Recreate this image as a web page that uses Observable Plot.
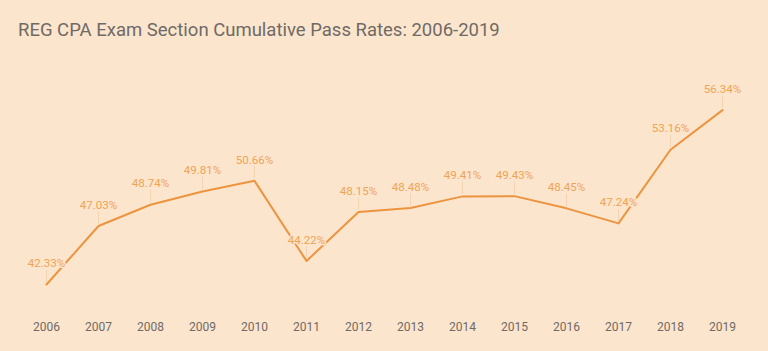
<!DOCTYPE html>
<html><head><meta charset="utf-8">
<script src="https://cdn.jsdelivr.net/npm/d3@7"></script>
<script src="https://cdn.jsdelivr.net/npm/@observablehq/plot@0.6"></script>
<style>
html,body{margin:0;padding:0;background:#fce5cd;}
#title{font-family:Roboto,sans-serif;font-size:18.5px;color:#6f6a66;height:60px;box-sizing:border-box;padding:19px 0 0 18px;white-space:nowrap;}
</style></head>
<body>
<div id="title">REG CPA Exam Section Cumulative Pass Rates: 2006-2019</div>
<div id="chart"></div>
<script>
const years = ["2006","2007","2008","2009","2010","2011","2012","2013","2014","2015","2016","2017","2018","2019"];
const rates = [42.33,47.03,48.74,49.81,50.66,44.22,48.15,48.48,49.41,49.43,48.45,47.24,53.16,56.34];
const data = years.map((y,i)=>({year:y, v:rates[i]}));
const lineColor = "#ec943f";
const labelColor = "#f0a352";
const bg = "#fce5cd";
const chart = Plot.plot({
  width: 768,
  height: 291,
  marginLeft: 43,
  marginRight: 44,
  marginTop: 29,
  marginBottom: 38,
  style: {background: bg, fontFamily: "Roboto, sans-serif"},
  x: {type: "point", domain: years, padding: 0},
  y: {domain: [40, 58], axis: null},
  marks: [
    Plot.ruleX(data, {x: "year", y1: d => d.v + 0.15, y2: d => d.v + 1.15, stroke: "#f2d4b4", strokeWidth: 1}),
    Plot.line(data, {x: "year", y: "v", stroke: lineColor, strokeWidth: 2}),
    Plot.text(data, {x: "year", y: "v", text: d => d.v.toFixed(2) + "%", dy: -21, fill: labelColor, stroke: bg, strokeWidth: 3, fontSize: 11.5}),
    Plot.axisX({tickSize: 0, tickPadding: 9, fontSize: 12, color: "#6f6a66", label: null})
  ]
});
document.getElementById("chart").appendChild(chart);
</script>
</body></html>
